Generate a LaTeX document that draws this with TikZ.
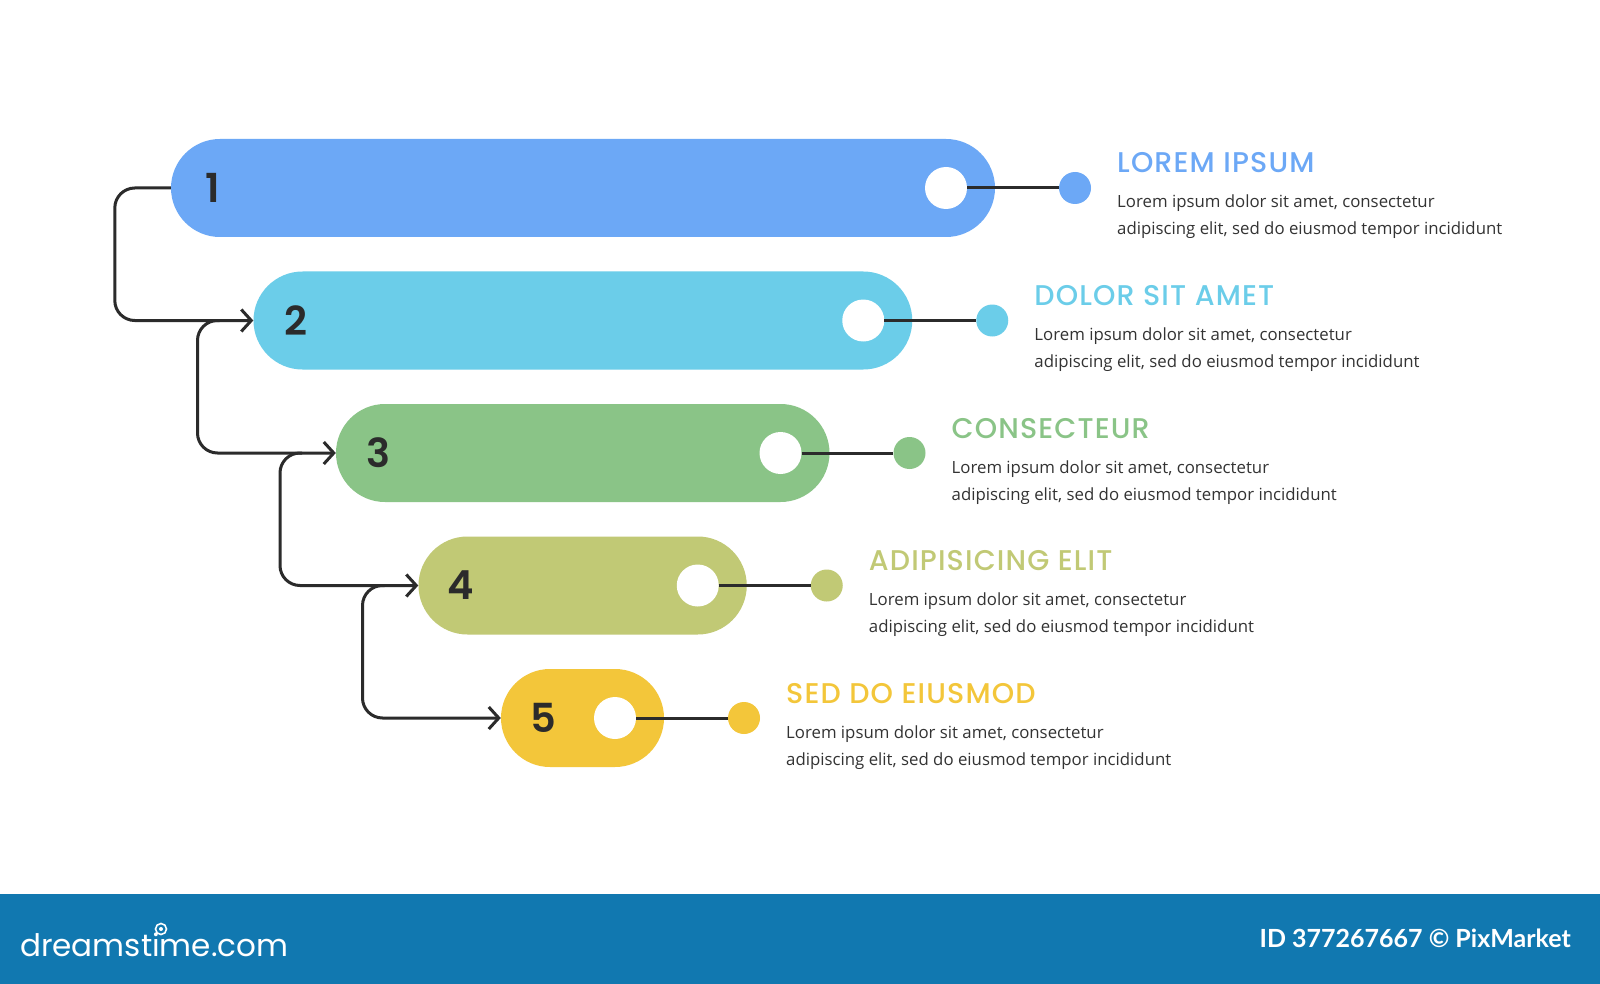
\documentclass[tikz,border=0pt]{standalone}
\usepackage{fontspec}
\setmainfont{Open Sans}
\newfontfamily\titlefont{Poppins}[UprightFont=* Medium, LetterSpace=4]
\newfontfamily\numfont{Poppins}[UprightFont=* SemiBold]
\newfontfamily\logofont{Poppins}
\newfontfamily\idfont{Lato}
\usetikzlibrary{arrows.meta}
\definecolor{c1}{HTML}{6CA8F6}
\definecolor{c2}{HTML}{6BCDE9}
\definecolor{c3}{HTML}{8AC487}
\definecolor{c4}{HTML}{C1C975}
\definecolor{c5}{HTML}{F3C63A}
\definecolor{dark}{HTML}{2B2B2B}
\definecolor{bodytext}{HTML}{333333}
\definecolor{banner}{HTML}{1178B0}
\begin{document}
\begin{tikzpicture}[x=1pt,y=-1pt,
  pill/.style={rectangle, rounded corners=49pt, minimum height=98pt, inner sep=0pt},
  hole/.style={circle, fill=white, minimum size=42pt, inner sep=0pt},
  dotnode/.style={circle, minimum size=32pt, inner sep=0pt},
  num/.style={font=\numfont\fontsize{40}{40}\selectfont, text=dark, inner sep=0pt},
  ttl/.style={font=\titlefont\fontsize{28.5}{28.5}\selectfont, anchor=base west, inner sep=0pt},
  body/.style={font=\fontsize{16.8}{27}\selectfont, text=bodytext, anchor=base west, inner sep=0pt},
  link/.style={draw=dark, line width=3pt},
  flow/.style={draw=dark, line width=3pt, rounded corners=20pt, -{Straight Barb[length=10pt,width=22pt]}},
]
\useasboundingbox (0,0) rectangle (1600,984);
\fill[white] (0,0) rectangle (1600,984);

\foreach \i/\c/\ttl in {1/c1/LOREM IPSUM, 2/c2/DOLOR SIT AMET, 3/c3/CONSECTEUR, 4/c4/ADIPISICING ELIT, 5/c5/SED DO EIUSMOD} {
  \pgfmathsetmacro\yy{188+132.5*(\i-1)}
  \pgfmathsetmacro\L{171+82.5*(\i-1)}
  \pgfmathsetmacro\R{995-82.75*(\i-1)}
  \pgfmathsetmacro\W{\R-\L}
  \pgfmathsetmacro\M{(\L+\R)/2}
  \node[pill, fill=\c, minimum width=\W pt] (p\i) at (\M,\yy) {};
  \node[num] (n\i) at (\L+42,\yy) {\i};
  \node[hole] (w\i) at (\R-49,\yy) {};
  \node[dotnode, fill=\c] (d\i) at (\R+80,\yy) {};
  \draw[link] (w\i.east) -- (d\i.west);
  \node[ttl, text=\c] (t\i) at (\R+122,\yy-15) {\ttl};
  \node[body] (ba\i) at (\R+122,\yy+20) {Lorem ipsum dolor sit amet, consectetur};
  \node[body] (bb\i) at (\R+122,\yy+47) {adipiscing elit, sed do eiusmod tempor incididunt};
}

% connectors
\draw[flow] (p1.west) -- ++(-56,0) |- (p2.west);
\coordinate (s2) at (219.5,320.5);
\coordinate (s3) at (302,453);
\coordinate (s4) at (384.5,585.5);
\draw[flow] (s2) -- ++(-22,0) |- (p3.west);
\draw[flow] (s3) -- ++(-22,0) |- (p4.west);
\draw[flow] (s4) -- ++(-22,0) |- (p5.west);

% banner
\fill[banner] (0,894) rectangle (1600,984);
\node[font=\logofont\fontsize{31}{31}\selectfont, text=white, anchor=base west, inner sep=0pt] (logo) at (20,956) {dreamstime.com};
\draw[white, line width=1.6pt] (161,929) circle (5.5pt);
\fill[white] (161,929) circle (2pt);
\node[font=\idfont\bfseries\fontsize{25}{25}\selectfont, text=white, anchor=base east, inner sep=0pt] (idtext) at (1571,947) {ID 377267667 © PixMarket};
\end{tikzpicture}
\end{document}
